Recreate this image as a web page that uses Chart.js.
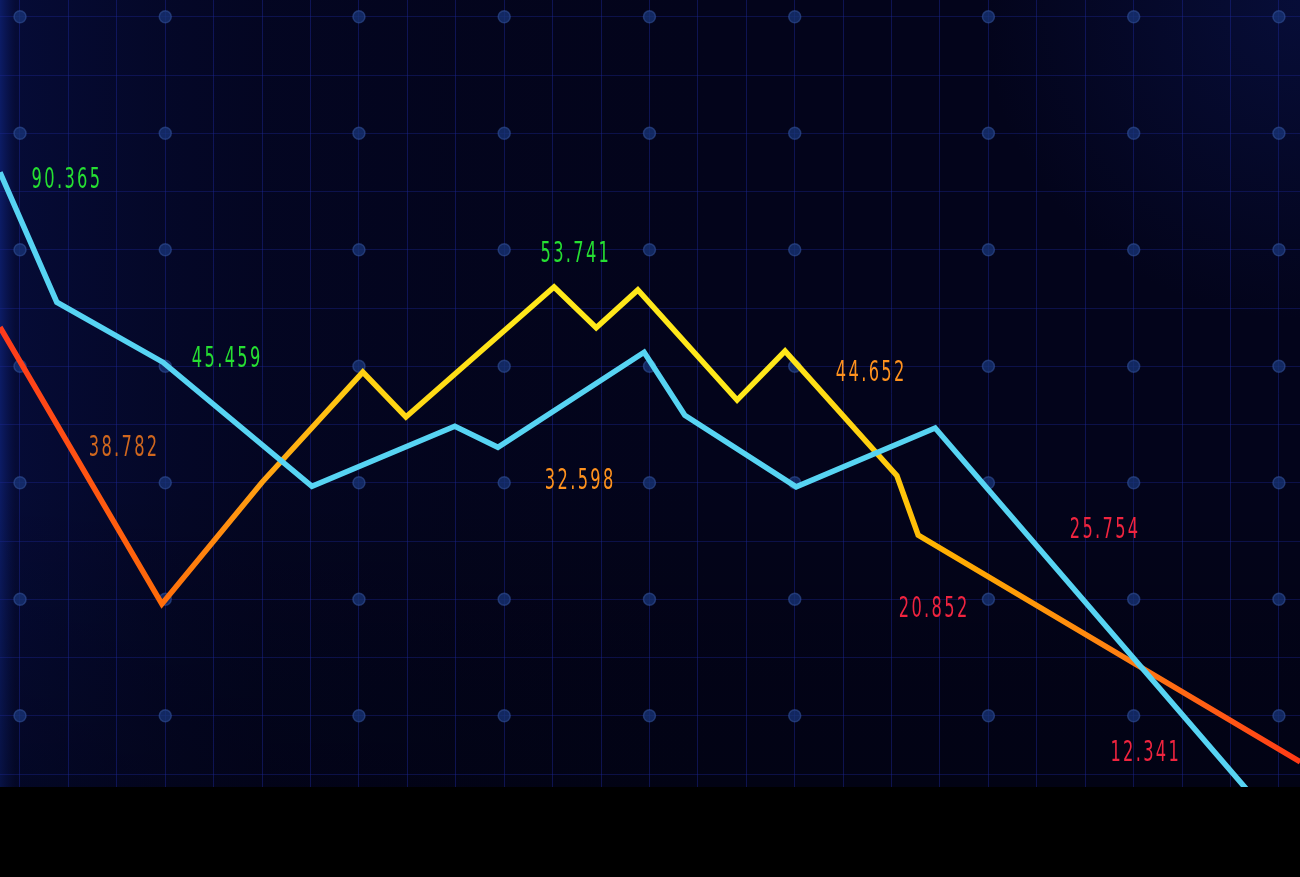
<!DOCTYPE html>
<html>
<head>
<meta charset="utf-8">
<title>Market lines</title>
<script src="https://cdn.jsdelivr.net/npm/chart.js@4.4.1/dist/chart.umd.min.js"></script>
<style>
  html, body { margin: 0; padding: 0; background: #000; }
  #wrap { position: relative; width: 1300px; height: 787px; }
  #band { width: 1300px; height: 90px; background: #000; }
</style>
</head>
<body>
<div id="wrap"><canvas id="linechart"></canvas></div>
<div id="band"></div>
<script>
// warm line (red -> yellow -> red)
var warmX = [-4.13, 29.3, 50.0, 70.8, 79.7, 110.3, 119.0, 127.6, 148.1, 158.0, 181.1, 185.5, 264.4];
var warmY = [76.7, 29.2, 50.1, 69.0, 61.3, 83.6, 76.6, 83.1, 64.2, 72.6, 51.2, 41.0, 2.1];

// light blue line
var blueX = [-4.13, 7.6, 29.5, 60.3, 89.8, 98.7, 128.9, 137.3, 160.3, 189.0, 256.1];
var blueY = [103.3, 81.0, 70.7, 49.4, 59.7, 56.1, 72.4, 61.6, 49.3, 59.4, -5.3];

// value labels floating on the chart
var labelText = ["90.365", "45.459", "53.741", "38.782", "32.598", "44.652", "25.754", "20.852", "12.341"];
var labelX = [9.7, 42.8, 114.8, 21.5, 115.7, 175.8, 224.1, 188.8, 232.5];
var labelY = [101.8, 71.1, 89.1, 55.8, 50.1, 68.7, 41.7, 28.2, 3.4];
var labelColor = ["#26e032", "#26e032", "#26e032", "#d0671e", "#ff921e", "#ff921e", "#f0243f", "#f0243f", "#f0243f"];

// marker dots on the grid
var dotCols = [0, 30, 70, 100, 130, 160, 200, 230, 260];
var dotRows = [10, 30, 50, 70, 90, 110, 130];

// grid ticks
var xTicks = [];
for (var i = 0; i <= 260; i += 10) xTicks.push(i);
var yTicks = [];
for (var j = 0; j <= 130; j += 10) yTicks.push(j);

function pts(xs, ys) {
  return xs.map(function (x, k) { return { x: x, y: ys[k] }; });
}

var dots = [];
dotRows.forEach(function (r) {
  dotCols.forEach(function (c) { dots.push({ x: c, y: r }); });
});

/*----------------------------------------*/
/*  background + labels
/*----------------------------------------*/
var backdrop = {
  id: 'backdrop',
  beforeDraw: function (chart) {
    var c = chart.ctx, w = chart.width, h = chart.height;
    c.save();
    c.fillStyle = '#03041b';
    c.fillRect(0, 0, w, h);
    var g = c.createLinearGradient(0, 0, w, 0);
    g.addColorStop(0, 'rgba(14,34,120,0.8)');
    g.addColorStop(0.012, 'rgba(8,18,80,0.5)');
    g.addColorStop(0.2, 'rgba(5,10,50,0.3)');
    g.addColorStop(0.55, 'rgba(3,5,30,0)');
    g.addColorStop(1, 'rgba(3,5,30,0)');
    c.fillStyle = g;
    c.fillRect(0, 0, w, h);
    var r = c.createRadialGradient(w, 0, 0, w, 0, 320);
    r.addColorStop(0, 'rgba(14,30,110,0.35)');
    r.addColorStop(1, 'rgba(14,30,110,0)');
    c.fillStyle = r;
    c.fillRect(0, 0, w, h);
    var b = c.createLinearGradient(0, h * 0.6, 0, h);
    b.addColorStop(0, 'rgba(0,0,0,0)');
    b.addColorStop(1, 'rgba(0,0,8,0.35)');
    c.fillStyle = b;
    c.fillRect(0, 0, w, h);
    c.restore();
  },
  afterDatasetsDraw: function (chart) {
    var c = chart.ctx, xs = chart.scales.x, ys = chart.scales.y;
    c.save();
    c.font = '28px "DejaVu Sans", sans-serif';
    c.textAlign = 'center';
    c.textBaseline = 'middle';
    c.letterSpacing = '4px';
    labelText.forEach(function (t, k) {
      c.save();
      c.translate(xs.getPixelForValue(labelX[k]), ys.getPixelForValue(labelY[k]));
      c.scale(0.58, 1);
      c.fillStyle = labelColor[k];
      c.fillText(t, 0, 0);
      c.restore();
    });
    c.restore();
  }
};

function warmGradient(context) {
  var area = context.chart.chartArea;
  if (!area) return '#ffd000';
  var g = context.chart.ctx.createLinearGradient(area.left, 0, area.right, 0);
  g.addColorStop(0, '#ff3a1c');
  g.addColorStop(0.12, '#ff6a0a');
  g.addColorStop(0.2, '#ffa012');
  g.addColorStop(0.28, '#ffd212');
  g.addColorStop(0.4, '#ffe81a');
  g.addColorStop(0.6, '#ffe81a');
  g.addColorStop(0.69, '#ffc80c');
  g.addColorStop(0.72, '#ffb200');
  g.addColorStop(0.87, '#ff7c12');
  g.addColorStop(1, '#ff3a16');
  return g;
}

/*----------------------------------------*/
/*  line chart
/*----------------------------------------*/
var ctx = document.getElementById("linechart");
var linechart = new Chart(ctx, {
  type: 'line',
  data: {
    datasets: [{
      label: 'Blue',
      data: pts(blueX, blueY),
      borderColor: '#57d4f3',
      borderWidth: 5.5,
      borderJoinStyle: 'miter',
      pointRadius: 0,
      tension: 0
    }, {
      label: 'Warm',
      data: pts(warmX, warmY),
      borderColor: warmGradient,
      borderWidth: 5.5,
      borderJoinStyle: 'miter',
      pointRadius: 0,
      tension: 0
    }, {
      label: 'Dots',
      type: 'scatter',
      data: dots,
      showLine: false,
      pointRadius: 6,
      pointBackgroundColor: 'rgba(24,52,120,0.75)',
      pointBorderColor: 'rgba(50,80,150,0.6)',
      pointBorderWidth: 1.5
    }]
  },
  options: {
    responsive: true,
    maintainAspectRatio: false,
    animation: false,
    layout: { padding: 0, autoPadding: false },
    plugins: {
      legend: { display: false },
      tooltip: { enabled: false }
    },
    scales: {
      x: {
        type: 'linear',
        min: -4.13,
        max: 264.35,
        afterBuildTicks: function (s) { s.ticks = xTicks.map(function (v) { return { value: v }; }); },
        ticks: { display: false },
        border: { display: false },
        grid: { color: 'rgba(28,40,150,0.45)', lineWidth: 1, drawTicks: false }
      },
      y: {
        type: 'linear',
        min: -2.23,
        max: 132.88,
        afterBuildTicks: function (s) { s.ticks = yTicks.map(function (v) { return { value: v }; }); },
        ticks: { display: false },
        border: { display: false },
        grid: { color: 'rgba(28,40,150,0.38)', lineWidth: 1, drawTicks: false }
      }
    }
  },
  plugins: [backdrop]
});
</script>
</body>
</html>
